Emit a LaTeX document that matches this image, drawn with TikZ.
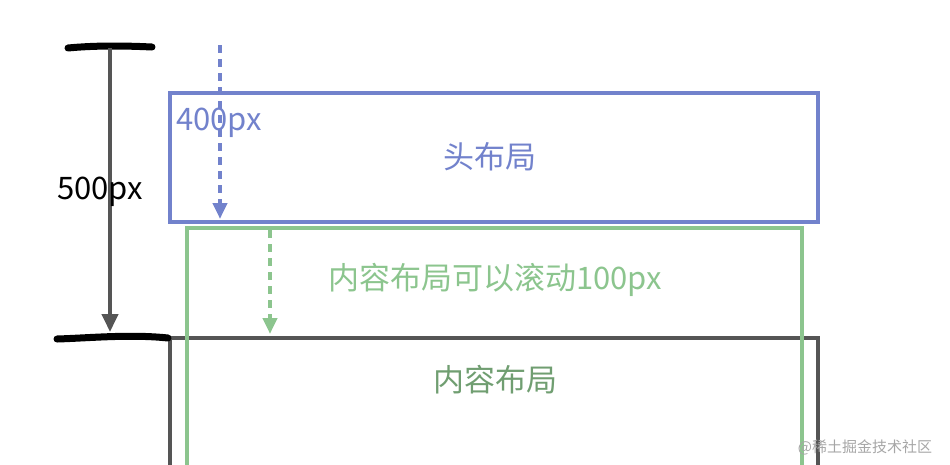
\documentclass[tikz,border=0pt]{standalone}
\usepackage{fontspec}
\setmainfont{Noto Sans CJK SC}
\usetikzlibrary{arrows.meta}
\definecolor{bl}{HTML}{7282CC}
\definecolor{gr}{HTML}{8CC58E}
\definecolor{dk}{HTML}{555555}
\tikzset{box/.style={line width=4pt},
 dasharr/.style={line width=4pt,dash pattern=on 8pt off 6pt,-{Triangle[length=16pt,width=14pt]}},
 lbl/.style={font=\fontsize{31}{34}\selectfont,inner sep=0pt},
 marker/.style={line width=7pt,line cap=round,black}}
\begin{document}
\begin{tikzpicture}[x=1pt,y=-1pt]
\useasboundingbox (0,0) rectangle (950,464);
\clip (0,0) rectangle (950,464);
\draw[box,dk] (170,338) rectangle (818,480);
\draw[box,gr] (187,228) rectangle (802,480);
\draw[box,bl] (170,93) rectangle (818,222);
\draw[marker] (68,48) .. controls (100,45) and (130,46) .. (152,47);
\draw[marker] (57,339) .. controls (90,338) and (130,334) .. (168,338);
\coordinate (a1) at (110,48); \coordinate (a2) at (110,332);
\draw[dk,line width=4pt,-{Triangle[length=18pt,width=16pt]}] (a1) -- (a2);
\node[lbl,black] (l500) at (100,192) {500px};
\coordinate (b1) at (220,45); \coordinate (b2) at (220,219);
\draw[dasharr,bl] (b1) -- (b2);
\node[lbl,bl,anchor=west] (l400) at (176,123) {400px};
\coordinate (c1) at (270,230); \coordinate (c2) at (270,334);
\draw[dasharr,gr] (c1) -- (c2);
\node[lbl,bl] (head) at (490,157) {头布局};
\node[lbl,gr] (scroll) at (495,280) {内容布局可以滚动100px};
\node[lbl,gr!80!black] (content) at (495,380) {内容布局};
\node[font=\fontsize{15}{17}\selectfont,inner sep=0pt,black!35] (wm) at (865,447) {@稀土掘金技术社区};
\end{tikzpicture}
\end{document}
